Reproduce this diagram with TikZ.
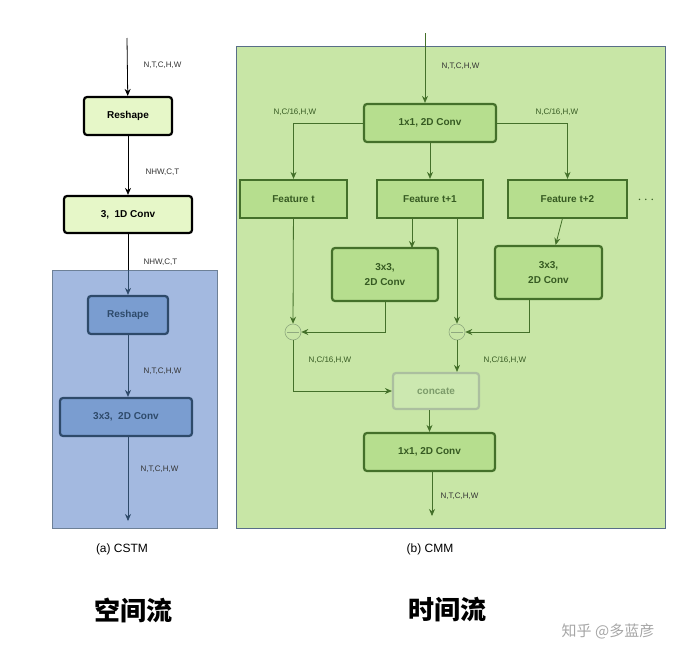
\documentclass[tikz,border=0pt]{standalone}
\usepackage{fontspec}
\setmainfont{Liberation Sans}
\newfontfamily\cjk{Noto Sans CJK SC}
\usetikzlibrary{arrows.meta}
\definecolor{gbg}{HTML}{C8E6A6}
\definecolor{gbox}{HTML}{B6DE8E}
\definecolor{gdk}{HTML}{44702A}
\definecolor{bbg}{HTML}{A3B9E0}
\definecolor{bbox}{HTML}{7A9DD0}
\definecolor{bdk}{HTML}{2E4A6A}
\definecolor{lbox}{HTML}{E6F7C8}
\tikzset{
 every node/.style={font=\fontsize{8}{10}\selectfont},
 lb/.style={draw=black,line width=2.2pt,rounded corners=3pt,fill=lbox,font=\bfseries\fontsize{10}{12}\selectfont,inner sep=0},
 bb/.style={draw=bdk,line width=2.2pt,rounded corners=3pt,fill=bbox,text=bdk,font=\bfseries\fontsize{10}{12}\selectfont,inner sep=0},
 gb/.style={draw=gdk,line width=2.2pt,rounded corners=3pt,fill=gbox,text=gdk!80!black,font=\bfseries\fontsize{10}{12}\selectfont,inner sep=0,align=center},
 gs/.style={gb,rounded corners=0pt},
 ar/.style={-{Stealth[length=7pt,width=6pt]},line width=0.8pt},
 gar/.style={ar,draw=gdk},
 tl/.style={anchor=west,text=black!80},
 gl/.style={anchor=west,text=gdk!80!black},
}
\begin{document}
\begin{tikzpicture}[x=1pt,y=-1pt]
\useasboundingbox (0,0) rectangle (691,659);
% left
\node[lb,minimum width=88pt,minimum height=38pt] (r1) at (128,116) {Reshape};
\node[lb,minimum width=128pt,minimum height=37pt] (c1) at (128,214.5) {3,\ \ 1D Conv};
\fill[bbg,draw=bdk!70,line width=0.5pt] (52,270) rectangle (217,528);
\node[bb,minimum width=80pt,minimum height=38pt] (r2) at (128,315) {Reshape};
\node[bb,minimum width=132pt,minimum height=38pt] (c2) at (126,417) {3x3,\ \ 2D Conv};
\coordinate (in1) at (127,38);
\coordinate (out1) at (128,521);
\draw[ar] (in1) -- (r1);
\draw[ar] (r1) -- (c1);
\draw[line width=0.8pt] (c1) -- (128,270);
\draw[ar,draw=bdk] (128,270) -- (r2);
\draw[ar,draw=bdk] (r2) -- (c2.north -| r2);
\draw[ar,draw=bdk] (c2.south -| r2) -- (out1);
\node[tl] at (140,65) {N,T,C,H,W};
\node[tl] at (142,172) {NHW,C,T};
\node[tl] at (140,262) {NHW,C,T};
\node[tl] at (140,371) {N,T,C,H,W};
\node[tl] at (137,469) {N,T,C,H,W};
\node[font=\fontsize{12}{14}\selectfont] at (122,549) {(a) CSTM};
\node[font=\cjk\bfseries\fontsize{26}{30}\selectfont] at (133,610) {空间流};
% right
\fill[gbg,draw=bdk!80,line width=0.6pt] (236,46) rectangle (665,528);
\node[gb,minimum width=132pt,minimum height=38pt] (p1) at (430,123) {1x1, 2D Conv};
\node[gs,minimum width=107pt,minimum height=38pt] (f1) at (293.5,199) {Feature t};
\node[gs,minimum width=106pt,minimum height=38pt] (f2) at (430,199) {Feature t+1};
\node[gs,minimum width=119pt,minimum height=38pt] (f3) at (567.5,199) {Feature t+2};
\node[gb,minimum width=106pt,minimum height=53pt] (k1) at (385,274.5) {3x3,\\[3pt]2D Conv};
\node[gb,minimum width=107pt,minimum height=53pt] (k2) at (548.5,272.5) {3x3,\\[3pt]2D Conv};
\node[draw=gdk!60,line width=0.6pt,circle,minimum size=16pt,inner sep=0] (m1) at (293,332) {};
\node[draw=gdk!60,line width=0.6pt,circle,minimum size=16pt,inner sep=0] (m2) at (457,332) {};
\draw[gdk!60,line width=0.6pt] (287,332) -- (299,332) (451,332) -- (463,332);
\node[draw=gdk!45,fill=gbox!70!white,line width=2.2pt,rounded corners=3pt,minimum width=86pt,minimum height=36pt,text=gdk!70,font=\bfseries\fontsize{10}{12}\selectfont] (cc) at (436,391) {concate};
\node[gb,minimum width=131pt,minimum height=38pt] (p2) at (429.5,452) {1x1, 2D Conv};
\node[text=gdk!80!black,font=\bfseries\fontsize{14}{14}\selectfont] at (646,200) {$\cdots$};
\coordinate (in2) at (425,33);
\coordinate (out2) at (432,516);
\draw[gar] (in2) -- (in2 |- p1.north);
\draw[gar] (p1.west) -| (f1.north);
\draw[gar] (p1) -- (f2);
\draw[gar] (p1.east) -| (f3.north);
\draw[gar] (f2.south -| k1.north -| 412,0) -- (412,248);
\draw[gar] (f3) -- (k2);
\draw[gar] (f1) -- (m1);
\draw[gar] (f2.south -| m2) -- (m2);
\draw[gar] (k1.south) |- (m1);
\draw[gar] (529,299) |- (m2);
\draw[gar] (m1) |- (cc.west);
\draw[gar] (m2) -- (cc.north -| m2);
\draw[gar] (cc.south -| p2) -- (p2);
\draw[gar] (p2.south -| out2) -- (out2);
\node[tl] at (438,66) {N,T,C,H,W};
\node[gl] at (270,112) {N,C/16,H,W};
\node[gl] at (532,112) {N,C/16,H,W};
\node[gl] at (305,360) {N,C/16,H,W};
\node[gl] at (480,360) {N,C/16,H,W};
\node[tl] at (437,496) {N,T,C,H,W};
\node[font=\fontsize{12}{14}\selectfont] at (430,549) {(b) CMM};
\node[font=\cjk\bfseries\fontsize{26}{30}\selectfont] at (447,610) {时间流};
\node[text=black!35,font=\cjk\fontsize{15}{18}\selectfont] at (608,631) {知乎 @多蓝彦};
\end{tikzpicture}
\end{document}
